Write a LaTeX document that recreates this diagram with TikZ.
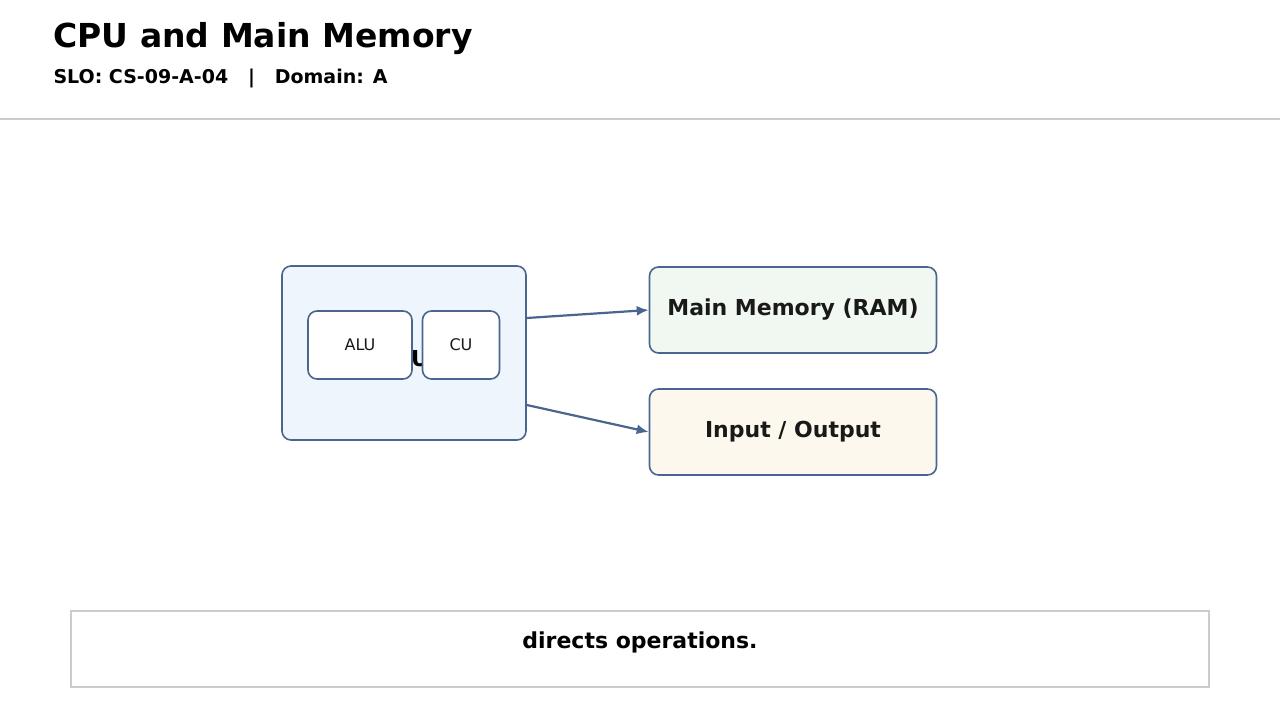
\documentclass[tikz,border=0pt]{standalone}
\usepackage{fontspec}
\setmainfont{DejaVu Sans}
\usetikzlibrary{positioning,arrows.meta}
\definecolor{edgeblue}{HTML}{4A6590}
\definecolor{cpufill}{HTML}{EEF5FC}
\definecolor{memfill}{HTML}{F1F8F1}
\definecolor{iofill}{HTML}{FDF8EE}
\tikzset{box/.style={draw=edgeblue,line width=1.6pt,rounded corners=9pt,inner sep=0pt,text=black!90},
  part/.style={box,fill=white,font=\fontsize{16}{18}\selectfont},
  arrow/.style={draw=edgeblue,line width=2.2pt,-{Latex[length=12pt,width=10pt]}}}
\begin{document}
\begin{tikzpicture}[x=1pt,y=-1pt]
  \useasboundingbox (0,0) rectangle (1280,720);
  \node[anchor=base west,font=\bfseries\fontsize{33}{36}\selectfont] (title) at (50,47) {CPU and Main Memory};
  \node[anchor=base west,font=\bfseries\fontsize{19}{22}\selectfont] (slo) at (50,83) {SLO: CS-09-A-04 \ \ | \ \ Domain: A};
  \draw[black!20,line width=1.5pt] (0,119) -- (1280,119);

  \node[box,fill=cpufill,minimum width=244pt,minimum height=174pt] (cpu) at (404,353) {};
  \node[font=\bfseries\fontsize{22}{24}\selectfont] (cpulabel) at (404,358) {CPU};
  \node[part,minimum width=104pt,minimum height=68pt] (alu) at (360,345) {ALU};
  \node[part,minimum width=77pt,minimum height=68pt] (cu) at (461,345) {CU};

  \node[box,fill=memfill,minimum width=287pt,minimum height=86pt,font=\bfseries\fontsize{22}{24}\selectfont] (mem) at (793,310) {Main Memory (RAM)};
  \node[box,fill=iofill,minimum width=287pt,minimum height=86pt,font=\bfseries\fontsize{22}{24}\selectfont] (io) at (793,432) {Input / Output};

  \draw[arrow] (cpu.east |- 0,318) -- (mem.west);
  \draw[arrow] (cpu.east |- 0,405) -- (io.west);

  \node[draw=black!20,line width=1.5pt,minimum width=1138pt,minimum height=76pt] (note) at (640,649) {};
  \node[font=\bfseries\fontsize{22}{24}\selectfont] (notetext) at (640,642) {directs operations.};
\end{tikzpicture}
\end{document}
